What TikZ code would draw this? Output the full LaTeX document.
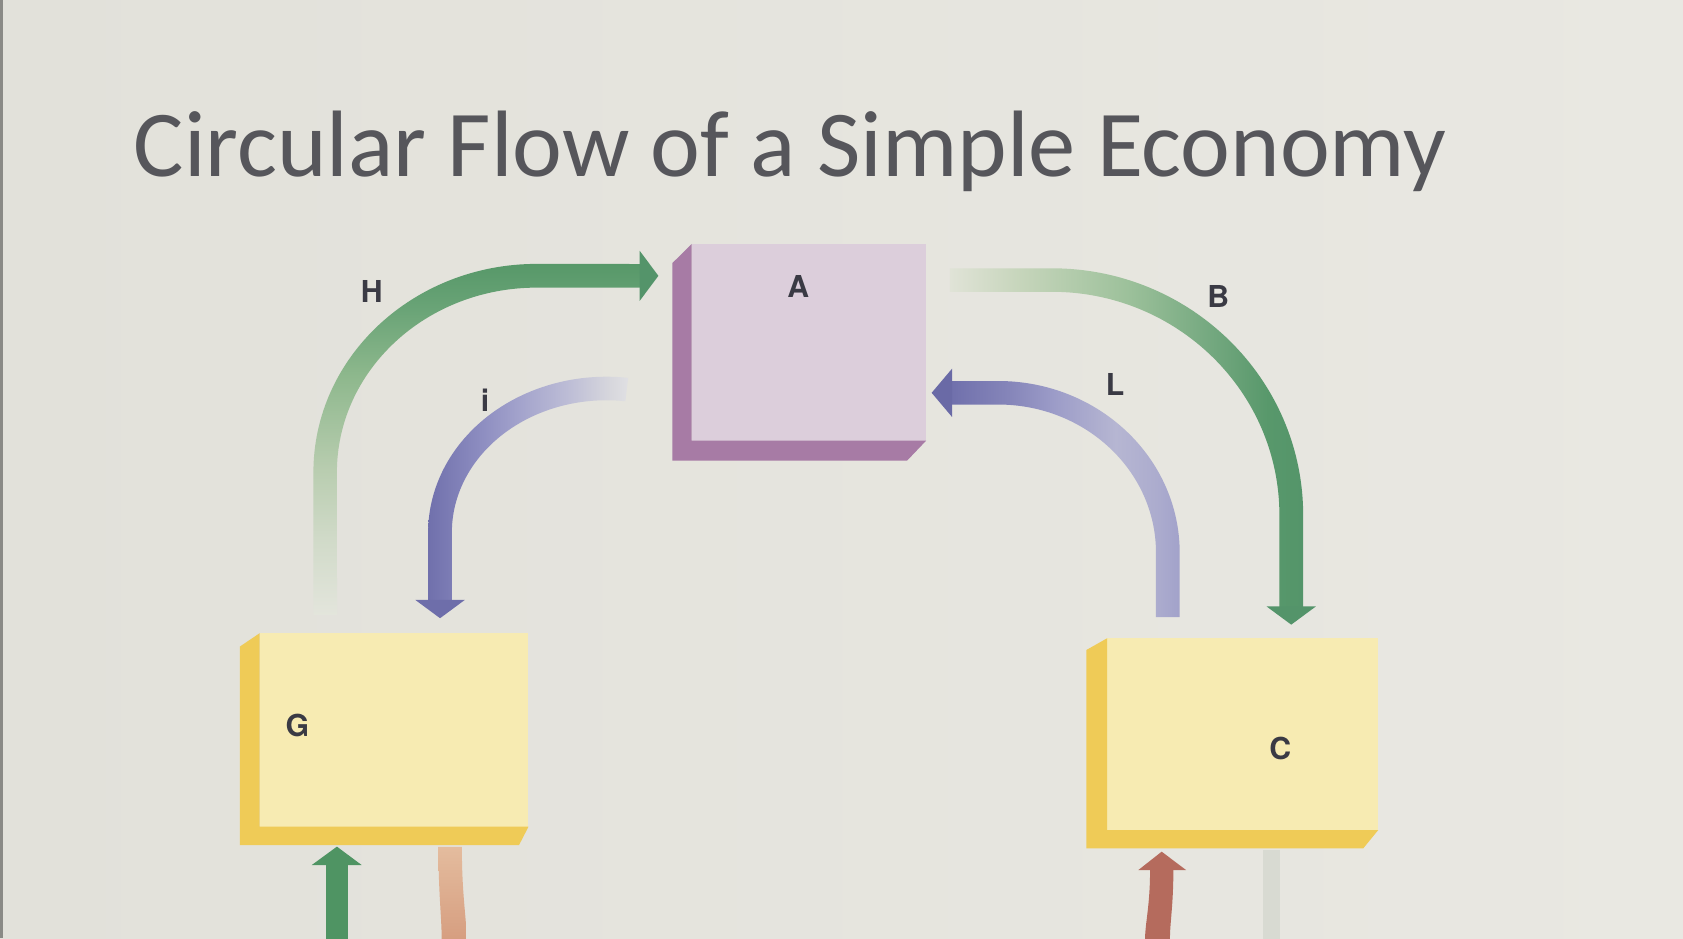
\documentclass[tikz,border=0pt]{standalone}
\usepackage{fontspec}
\setmainfont{Carlito}
\newfontfamily\lblfont{TeX Gyre Heros}
\usetikzlibrary{calc}

\definecolor{bgL}{HTML}{E2E1DA}
\definecolor{bgM}{HTML}{ECEBE5}
\definecolor{bgR}{HTML}{E9E8E2}
\definecolor{edgec}{HTML}{8A8A86}
\definecolor{titlec}{HTML}{56565B}
\definecolor{lblc}{HTML}{3A3A44}
\definecolor{frontA}{HTML}{DCCEDB}
\definecolor{sideA}{HTML}{A77BA5}
\definecolor{frontY}{HTML}{F7EBB2}
\definecolor{sideY}{HTML}{EFCB57}
\definecolor{gHead}{HTML}{54946A}
\definecolor{ihead}{HTML}{6E6EAA}
\definecolor{Lhead}{HTML}{6A6AA6}
\definecolor{botGreen}{HTML}{4F9463}
\definecolor{peachTop}{HTML}{E4BC9E}
\definecolor{peachBot}{HTML}{D69E80}
\definecolor{redc}{HTML}{B56B5D}
\definecolor{faintc}{HTML}{D8DAD2}
% H shaft colours
\definecolor{Hc0}{HTML}{E3E5DC}
\definecolor{Hc1}{HTML}{D0DAC8}
\definecolor{Hc2}{HTML}{B9CDB0}
\definecolor{Hc3}{HTML}{8EB88D}
\definecolor{Hc4}{HTML}{6AA477}
\definecolor{Hc5}{HTML}{579869}
% B shaft colours
\definecolor{Bc0}{HTML}{E0E3D7}
\definecolor{Bc1}{HTML}{C6D5BB}
\definecolor{Bc2}{HTML}{9DC19B}
\definecolor{Bc3}{HTML}{72A77E}
\definecolor{Bc4}{HTML}{58986B}
\definecolor{Bc5}{HTML}{54956A}
% i shaft colours
\definecolor{ic0}{HTML}{7070AC}
\definecolor{ic1}{HTML}{8E8EC1}
\definecolor{ic2}{HTML}{A3A3CC}
\definecolor{ic3}{HTML}{BDBDD6}
\definecolor{ic4}{HTML}{D8D8DD}
\definecolor{ic5}{HTML}{E0E0E3}
% L shaft colours
\definecolor{Lc0}{HTML}{7070AC}
\definecolor{Lc1}{HTML}{8585B9}
\definecolor{Lc2}{HTML}{9C9CC8}
\definecolor{Lc3}{HTML}{B6B6D2}
\definecolor{Lc4}{HTML}{ACACCE}
\definecolor{Lc5}{HTML}{A2A2CA}

\pgfdeclareverticalshading{Hshade}{100bp}{color(0bp)=(Hc0); color(25bp)=(Hc0); color(36bp)=(Hc1); color(45.5bp)=(Hc2); color(59bp)=(Hc3); color(68.5bp)=(Hc4); color(75bp)=(Hc5); color(100bp)=(Hc5)}
\pgfdeclarehorizontalshading{Bshade}{100bp}{color(0bp)=(Bc0); color(25bp)=(Bc0); color(35bp)=(Bc1); color(50bp)=(Bc2); color(62.5bp)=(Bc3); color(70bp)=(Bc4); color(75bp)=(Bc5); color(100bp)=(Bc5)}
\pgfdeclarehorizontalshading{ishade}{100bp}{color(0bp)=(ic0); color(25bp)=(ic0); color(38.6bp)=(ic1); color(47.8bp)=(ic2); color(60bp)=(ic3); color(71bp)=(ic4); color(75bp)=(ic5); color(100bp)=(ic5)}
\pgfdeclarehorizontalshading{Lshade}{100bp}{color(0bp)=(Lc0); color(25bp)=(Lc0); color(37.5bp)=(Lc1); color(47.6bp)=(Lc2); color(61bp)=(Lc3); color(70bp)=(Lc4); color(75bp)=(Lc5); color(100bp)=(Lc5)}

\begin{document}
\begin{tikzpicture}[x=0.01cm,y=0.01cm,
  lbl/.style={font=\lblfont\bfseries\fontsize{8}{9}\selectfont, text=lblc, inner sep=0pt},
  face/.style={rectangle, draw=none, inner sep=0pt, outer sep=0pt},
  faceA/.style={face, fill=frontA},
  faceY/.style={face, fill=frontY}]
% background
\shade[left color=bgL, middle color=bgM, right color=bgR] (0,0) rectangle (1568,874);
\useasboundingbox (0,0) rectangle (1568,874);
\fill[edgec] (0,0) rectangle (2.5,874);

% title
\node[anchor=base west, inner sep=0pt, text=titlec, font=\fontsize{25}{30}\selectfont] (title) at (124,709.4) {Circular Flow of a Simple Economy};

% boxes (front faces)
\node[faceA, minimum width=2.182cm, minimum height=1.833cm] (A) at (753.6,555.05) {};
\node[faceY, minimum width=2.503cm, minimum height=1.802cm] (G) at (367.15,193.9) {};
\node[faceY, minimum width=2.524cm, minimum height=1.786cm] (C) at (1157.8,190) {};
% box sides
\fill[sideA] ($(A.north west)+(-18.1,-18)$) -- (A.north west) -- (A.south west) -- (A.south east) -- ++(-17.7,-18.6) -- ($(A.south west)+(-18.1,-18.6)$) -- cycle;
\fill[sideY] ($(G.north west)+(-18.5,-12.5)$) -- (G.north west) -- (G.south west) -- (G.south east) -- ++(-8.8,-17.1) -- ($(G.south west)+(-18.5,-17.1)$) -- cycle;
\fill[sideY] ($(C.north west)+(-19.3,-10.9)$) -- (C.north west) -- (C.south west) -- (C.south east) -- ++(-14,-17.1) -- ($(C.south west)+(-19.3,-17.1)$) -- cycle;

% box labels
\node[lbl] (lA) at (743.8,606.9) {A};
\node[lbl] (lG) at (277,198.5) {G};
\node[lbl] (lC) at (1192.8,176.8) {C};

% H arrow (G -> A)
\shade[shading=Hshade] (292,301) -- (292,434) arc[start angle=180, end angle=90, x radius=2.08cm, y radius=1.94cm] -- (597,628) -- (597,606) -- (500,606) arc[start angle=90, end angle=180, x radius=1.86cm, y radius=1.72cm] -- (314,301) -- cycle;
\fill[gHead] (596,640.3) -- (613.4,617) -- (596,593.7) -- cycle;
\node[lbl] (lH) at (346.3,602.2) {H};

% B arrow (A -> C)
\shade[shading=Bshade] (885,624) -- (980,624) arc[start angle=90, end angle=0, x radius=2.34cm, y radius=2.30cm] -- (1214,308) -- (1192,308) -- (1192,394) arc[start angle=0, end angle=90, x radius=2.12cm, y radius=2.08cm] -- (885,602) -- cycle;
\fill[gHead] (1180,309) -- (1203,292) -- (1226,309) -- cycle;
\node[lbl] (lB) at (1135.1,597.6) {B};

% i arrow (A -> G)
\shade[shading=ishade] (585.23,521.92) arc[start angle=83, end angle=180, x radius=1.66cm, y radius=1.45cm] -- (399,314) -- (421,314) -- (421,378) arc[start angle=180, end angle=83, x radius=1.44cm, y radius=1.23cm] -- cycle;
\fill[ihead] (387,315) -- (410,298) -- (433,315) -- cycle;
\node[lbl] (li) at (451.9,501.3) {i};

% L arrow (C -> A)
\shade[shading=Lshade] (1077,299) -- (1077,359) arc[start angle=0, end angle=90, x radius=1.47cm, y radius=1.38cm] -- (886,497) -- (886,519) -- (930,519) arc[start angle=90, end angle=0, x radius=1.69cm, y radius=1.60cm] -- (1099,299) -- cycle;
\fill[Lhead] (887,485.5) -- (868,508) -- (887,530.5) -- cycle;
\node[lbl] (lL) at (1038.9,515.3) {L};

% bottom arrows (cut by the frame)
\fill[botGreen] (303.7,-1) rectangle (324.5,69);
\fill[botGreen] (290.4,68) -- (313.9,85.2) -- (337,68) -- cycle;
\shade[top color=peachTop, bottom color=peachBot] (408.5,85) -- (430.3,85) .. controls (430.3,40) and (434.5,20) .. (434.8,-1) -- (411.5,-1) .. controls (411.5,20) and (408.5,40) .. (408.5,85) -- cycle;
\fill[redc] (1071.5,64) .. controls (1071.5,30) and (1067,15) .. (1066.8,-1) -- (1090,-1) .. controls (1090,15) and (1093.2,30) .. (1093.2,64) -- cycle;
\fill[redc] (1060.6,63.4) -- (1082.3,80.5) -- (1105,63.4) -- cycle;
\fill[faintc] (1177,-1) rectangle (1193,82);
\end{tikzpicture}
\end{document}
